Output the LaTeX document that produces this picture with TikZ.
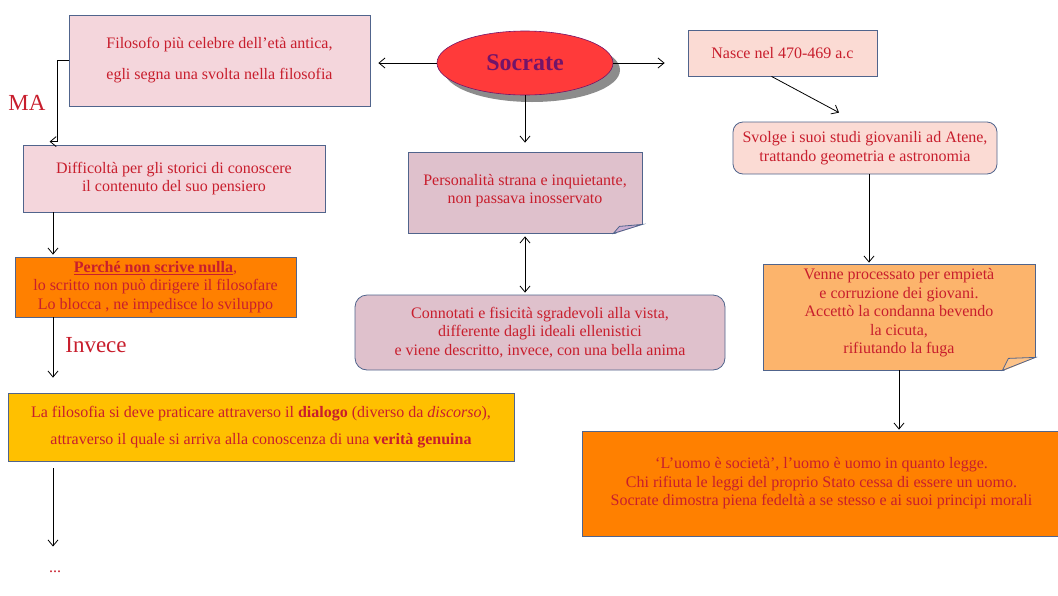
\documentclass[tikz,border=0pt]{standalone}
\usepackage{fontspec}
\setmainfont{Liberation Serif}
\usetikzlibrary{shapes.geometric,shadows,calc,arrows.meta}
\definecolor{txtred}{RGB}{200,30,45}
\definecolor{bordblue}{RGB}{80,100,140}
\definecolor{pinkfill}{RGB}{244,214,220}
\definecolor{salmonfill}{RGB}{251,219,212}
\definecolor{mauvefill}{RGB}{223,193,204}
\definecolor{orangefill}{RGB}{255,128,0}
\definecolor{goldfill}{RGB}{255,192,0}
\definecolor{lightorange}{RGB}{252,180,108}
\definecolor{socred}{RGB}{255,58,58}
\definecolor{socpurple}{RGB}{115,20,105}
\tikzstyle{box} = [rectangle, draw=bordblue, line width=0.8pt, inner sep=0pt, align=center, text=txtred, font=\fontsize{16}{18.5}\selectfont]
\tikzstyle{big} = [text=txtred, font=\fontsize{23}{26}\selectfont]
\tikzstyle{arr} = [-{Straight Barb[length=6pt,width=10pt]}, line width=0.8pt]

\begin{document}
\begin{tikzpicture}[x=1pt,y=-1pt]
  \useasboundingbox (0,0) rectangle (1058,595);
  \coordinate (spine) at (53,0);
  \node (filo) at (219.5,60.5) [box, fill=pinkfill, minimum width=301pt, minimum height=91pt] {Filosofo più celebre dell’età antica,\\[12.5pt] egli segna una svolta nella filosofia};
  \node (socr) at (525,63) [ellipse, draw=socpurple, line width=0.6pt, fill=socred, inner sep=0pt, minimum width=176pt, minimum height=64pt, drop shadow={shadow xshift=7pt, shadow yshift=-7pt, fill=black!45, opacity=1}, text=socpurple, font=\fontsize{24}{28}\selectfont\bfseries] {Socrate};
  \node (nasce) at (782.5,53) [box, fill=salmonfill, minimum width=189pt, minimum height=46pt] {Nasce nel 470-469 a.c};
  \node (diff) at (174,178.5) [box, fill=pinkfill, minimum width=302pt, minimum height=67pt] {Difficoltà per gli storici di conoscere\\ il contenuto del suo pensiero};
  \node (perche) at (155.5,287) [box, fill=orangefill, minimum width=281pt, minimum height=60pt] {\underline{\textbf{Perché non scrive nulla}},\\ lo scritto non può dirigere il filosofare\\ Lo blocca , ne impedisce lo sviluppo};
  \node (dial) at (261,427) [box, fill=goldfill, minimum width=506pt, minimum height=68pt] {La filosofia si deve praticare attraverso il \textbf{dialogo} (diverso da \textit{discorso}),\\[8.5pt] attraverso il quale si arriva alla conoscenza di una \textbf{verità genuina}};
  \node (dots) at (55,572) [text=txtred, font=\fontsize{16}{18.5}\selectfont] {...};
  \node (pers) at (525,192.5) [box, fill=mauvefill, minimum width=234pt, minimum height=81pt, text depth=7pt] {Personalità strana e inquietante,\\ non passava inosservato};
  \node (conn) at (540,332.5) [box, fill=mauvefill, rounded corners=12pt, minimum width=370pt, minimum height=75pt] {Connotati e fisicità sgradevoli alla vista,\\ differente dagli ideali ellenistici\\ e viene descritto, invece, con una bella anima};
  \node (svolge) at (865,148) [box, fill=salmonfill, rounded corners=10pt, minimum width=264pt, minimum height=52pt] {Svolge i suoi studi giovanili ad Atene,\\ trattando geometria e astronomia};
  \node (venne) at (899,317) [box, fill=lightorange, minimum width=272pt, minimum height=106pt, text depth=12pt] {Venne processato per empietà\\ e corruzione dei giovani.\\ Accettò la condanna bevendo\\ la cicuta,\\ rifiutando la fuga};
  \node (uomo) at (821.5,483.5) [box, fill=orangefill, minimum width=479pt, minimum height=105pt] {‘L’uomo è società’, l’uomo è uomo in quanto legge.\\ Chi rifiuta le leggi del proprio Stato cessa di essere un uomo.\\ Socrate dimostra piena fedeltà a se stesso e ai suoi principi morali};
  \node (ma) at (27,103) [big] {MA};
  \node (invece) at (96,345) [big] {Invece};

  % folded corners
  \fill [white] ($(pers.south east)+(-29,1)$) -- ($(pers.south east)+(1,1)$) -- ($(pers.south east)+(1,-9)$) -- cycle;
  \draw [bordblue, line width=0.8pt, fill=blue!10!mauvefill] ($(pers.south east)+(-29,0)$) -- ($(pers.south east)+(-23,-7)$) -- ($(pers.south east)+(0,-9)$) -- cycle;
  \fill [white] ($(venne.south east)+(-33,1)$) -- ($(venne.south east)+(1,1)$) -- ($(venne.south east)+(1,-13)$) -- cycle;
  \draw [bordblue, line width=0.8pt, fill=lightorange!80!white] ($(venne.south east)+(-33,0)$) -- ($(venne.south east)+(-27,-12)$) -- ($(venne.south east)+(0,-13)$) -- cycle;

  % connectors
  \draw [arr, shorten >=8pt] (socr.west) -- (socr.west -| filo.east);
  \draw [arr, shorten >=23pt] (socr.east) -- (socr.east -| nasce.west);
  \draw [arr, shorten >=9pt] (socr.south) -- (socr.south |- pers.north);
  \draw [arr] (filo.west) -- ++(-11,0) |- ($(diff.north west)+(27,-3)$);
  \draw [arr, shorten >=2pt] (diff.south -| spine) -- (perche.north -| spine);
  \draw [arr, shorten >=15pt] (perche.south -| spine) -- (dial.north -| spine);
  \draw [arr, shorten <=7pt, shorten >=21pt] (dial.south -| spine) -- (dots.north -| spine);
  \draw [{Straight Barb[length=6pt,width=10pt]}-{Straight Barb[length=6pt,width=10pt]}, line width=0.8pt, shorten <=3pt, shorten >=2pt] (pers.south) -- (pers.south |- conn.north);
  \draw [arr] ([xshift=-11pt]nasce.south) -- ([xshift=-26pt,yshift=9pt]svolge.north);
  \draw [arr, shorten >=1pt] ([xshift=4pt]svolge.south) -- ([xshift=4pt]svolge.south |- venne.north);
  \draw [arr, shorten >=1pt] (venne.south) -- (uomo.north -| venne.south);
\end{tikzpicture}
\end{document}
